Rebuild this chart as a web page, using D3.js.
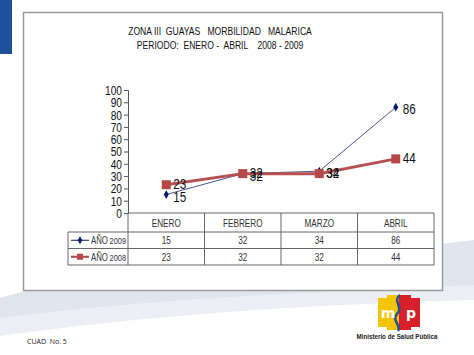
<!DOCTYPE html>
<html>
<head>
<meta charset="utf-8">
<script src="https://cdn.jsdelivr.net/npm/d3@7"></script>
<style>
  body { margin: 0; background: #fff; }
  svg { display: block; }
  text { white-space: pre; }
</style>
</head>
<body>
<div id="chart"></div>
<script>
// data
const months = ["ENERO", "FEBRERO", "MARZO", "ABRIL"];
const year2009 = [15, 32, 34, 86];
const year2008 = [23, 32, 32, 44];
const yTicks = [0, 10, 20, 30, 40, 50, 60, 70, 80, 90, 100];

const width = 474, height = 355;
const font = "'Liberation Sans', Arial, sans-serif";
const squeeze = 0.78; // the slide uses Arial Narrow, fake it by squeezing Liberation Sans

const svg = d3.select("#chart").append("svg")
  .attr("width", width)
  .attr("height", height);

// narrow text placed at (x, y)
function ntext(parent, x, y, str, size, anchor) {
  return parent.append("text")
    .attr("transform", `translate(${x},${y}) scale(${squeeze},1)`)
    .attr("text-anchor", anchor || "start")
    .attr("font-family", font)
    .attr("font-size", size)
    .attr("fill", "#333")
    .text(str);
}

// slide background: soft wave at the bottom
svg.append("path")
  .attr("d", "M0,298 C120,262 300,262 474,240 L474,300 C330,300 200,310 0,332 Z")
  .attr("fill", "#dfe4ee");
svg.append("path")
  .attr("d", "M0,318 C140,300 300,292 474,285 L474,300 C300,305 150,315 0,336 Z")
  .attr("fill", "#ebeef5");
svg.append("rect")
  .attr("x", 0).attr("y", 0).attr("width", 12).attr("height", 54)
  .attr("fill", "#1d4f9c");

// chart frame
svg.append("rect")
  .attr("x", 23.5).attr("y", 12.5).attr("width", 419).attr("height", 278)
  .attr("fill", "#fff")
  .attr("stroke", "#9a9a9a")
  .attr("stroke-width", 1.5);

ntext(svg, 220, 35, "ZONA III  GUAYAS   MORBILIDAD   MALARICA", 11, "middle").attr("fill", "#111");
ntext(svg, 220, 49, "PERIODO:  ENERO -  ABRIL    2008 - 2009", 11, "middle").attr("fill", "#111");

// scales
const x = d3.scaleBand().domain(months).range([128, 434]);
const y = d3.scaleLinear().domain([0, 100]).range([213, 90]);
const cx = m => x(m) + x.bandwidth() / 2;

// y axis
const yAxis = svg.append("g")
  .attr("transform", "translate(128,0)")
  .call(d3.axisLeft(y).tickValues(yTicks).tickSize(4).tickPadding(3));
yAxis.select(".domain").attr("stroke", "#555");
yAxis.selectAll(".tick line").attr("stroke", "#555");
yAxis.selectAll(".tick text")
  .attr("x", null)
  .attr("dy", "0.34em")
  .attr("transform", `translate(-6,0) scale(${squeeze},1)`)
  .attr("font-family", font)
  .attr("font-size", 13)
  .attr("fill", "#111");

// data table under the plot
const rowTop = 213, headH = 19, rowH = 16.5;
const tableLine = "#666";
const tbl = svg.append("g");
tbl.append("line")
  .attr("x1", 128).attr("x2", 434).attr("y1", rowTop).attr("y2", rowTop)
  .attr("stroke", tableLine);
[rowTop + headH, rowTop + headH + rowH, rowTop + headH + 2 * rowH].forEach(yy => {
  tbl.append("line")
    .attr("x1", 68).attr("x2", 434).attr("y1", yy).attr("y2", yy)
    .attr("stroke", tableLine);
});
months.concat(["end"]).forEach((m, i) => {
  const xx = i < months.length ? x(m) : x.range()[1];
  tbl.append("line")
    .attr("x1", xx).attr("x2", xx)
    .attr("y1", rowTop).attr("y2", rowTop + headH + 2 * rowH)
    .attr("stroke", tableLine);
});
tbl.append("line")
  .attr("x1", 68).attr("x2", 68)
  .attr("y1", rowTop + headH).attr("y2", rowTop + headH + 2 * rowH)
  .attr("stroke", tableLine);

months.forEach(m => ntext(tbl, cx(m), rowTop + headH / 2 + 4, m, 10.5, "middle"));

const series = [
  { name: "AÑO", year: "2009", values: year2009, color: "#0a1a6b", stroke: "#4a5590", width: 1, marker: "diamond" },
  { name: "AÑO", year: "2008", values: year2008, color: "#b84848", stroke: "#b65050", width: 3, marker: "square" }
];

series.forEach((s, r) => {
  const ry = rowTop + headH + r * rowH + rowH / 2;
  s.values.forEach((v, i) => ntext(tbl, cx(months[i]), ry + 4, v, 10.5, "middle"));

  // legend key in the row header
  tbl.append("line")
    .attr("x1", 71).attr("x2", 89).attr("y1", ry).attr("y2", ry)
    .attr("stroke", s.color).attr("stroke-width", r === 0 ? 1 : 2);
  if (s.marker === "square") {
    tbl.append("rect").attr("x", 77).attr("y", ry - 3).attr("width", 6).attr("height", 6).attr("fill", s.color);
  } else {
    tbl.append("path").attr("d", d3.symbol(d3.symbolDiamond, 18)()).attr("transform", `translate(80,${ry})`).attr("fill", s.color);
  }
  ntext(tbl, 91, ry + 4, s.name, 10);
  ntext(tbl, 126, ry + 4, s.year, 9.5, "end");
});

// lines + markers
const line = d3.line()
  .x((d, i) => cx(months[i]))
  .y(d => y(d));

// draw 2009 first so the thick 2008 line sits on top of it where they meet
series.forEach(s => {
  const g = svg.append("g");
  g.append("path")
    .datum(s.values)
    .attr("d", line)
    .attr("fill", "none")
    .attr("stroke", s.stroke)
    .attr("stroke-width", s.width);
  if (s.marker === "square") {
    g.selectAll("rect")
      .data(s.values)
      .enter().append("rect")
      .attr("x", (d, i) => cx(months[i]) - 4.5)
      .attr("y", d => y(d) - 4.5)
      .attr("width", 9).attr("height", 9)
      .attr("fill", s.color);
  } else {
    g.selectAll("path.pt")
      .data(s.values)
      .enter().append("path")
      .attr("class", "pt")
      .attr("d", d3.symbol(d3.symbolDiamond, 22)())
      .attr("transform", (d, i) => `translate(${cx(months[i])},${y(d)})`)
      .attr("fill", s.color);
  }
});

// value labels
series.forEach((s, r) => {
  const g = svg.append("g");
  s.values.forEach((v, i) => {
    ntext(g, cx(months[i]) + 7, y(v) + (r === 0 ? 7 : 4), v, 15).attr("fill", "#111");
  });
});

// footer
svg.append("text")
  .attr("x", 27).attr("y", 344)
  .attr("font-family", "'Open Sans', sans-serif")
  .attr("font-size", 7)
  .attr("fill", "#222")
  .text("CUAD  No. 5");

const logo = svg.append("g");
logo.append("path")
  .attr("d", "M378,298 h9 v-3 h12 v35 h-12 v-3 h-9 z")
  .attr("fill", "#f5c400");
logo.append("path")
  .attr("d", "M399,295 h12 v3 h9 v29 h-9 v3 h-12 z")
  .attr("fill", "#d8202a");
logo.append("path")
  .attr("d", "M400,295 C392,300 404,308 397,314 C391,320 402,326 398,331")
  .attr("fill", "none").attr("stroke", "#1d4f9c").attr("stroke-width", 2.5);
logo.append("text")
  .attr("x", 388).attr("y", 318).attr("text-anchor", "middle")
  .attr("font-family", "'DejaVu Sans', sans-serif").attr("font-weight", "bold")
  .attr("font-size", 14).attr("fill", "#fff").text("m");
logo.append("text")
  .attr("x", 411).attr("y", 318).attr("text-anchor", "middle")
  .attr("font-family", "'DejaVu Sans', sans-serif").attr("font-weight", "bold")
  .attr("font-size", 14).attr("fill", "#fff").text("p");
ntext(logo, 397, 339, "Ministerio de Salud Pública", 8, "middle")
  .attr("font-weight", "bold").attr("fill", "#222");
</script>
</body>
</html>
